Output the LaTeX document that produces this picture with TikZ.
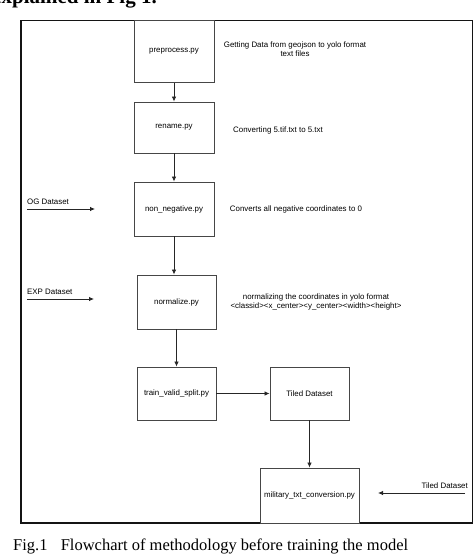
\documentclass[tikz,border=0pt]{standalone}
\usepackage{fontspec}
\setmainfont{Liberation Serif}
\setsansfont{Liberation Sans}
\usetikzlibrary{arrows.meta}
\definecolor{boxline}{RGB}{70, 70, 70}
\definecolor{frameline}{RGB}{20, 20, 20}
\tikzset{
	stepbox/.style={draw=boxline, line width=0.9pt, fill=white, inner sep=0pt, font=\sffamily\fontsize{7.9}{9}\selectfont},
	note/.style={font=\sffamily\fontsize{7.9}{9.5}\selectfont, align=center, inner sep=0pt},
	flow/.style={draw=black!85, line width=0.8pt, -{Latex[length=5pt, width=4.5pt]}}
}
\begin{document}
\begin{tikzpicture}[x=1pt, y=-1pt]
			\useasboundingbox (0, 0) rectangle (474, 556);
			% cut-off line above the figure
			\node[anchor=base east, font=\bfseries\fontsize{21}{24}\selectfont, inner sep=0pt] (head) at (157, 3.5) {explained in Fig 1.};
			% frame
			\draw [draw=frameline, line width=1.8pt] (21, 20.5) rectangle (472.5, 523);
			% steps
			\node[stepbox, minimum width=80pt, minimum height=62pt] (prep) at (174, 51.5) {preprocess.py};
			\node[stepbox, minimum width=80pt, minimum height=51pt] (ren) at (174, 127.5) {rename.py};
			\node[stepbox, minimum width=80pt, minimum height=54pt] (nonneg) at (174, 209) {non\_negative.py};
			\node[stepbox, minimum width=79pt, minimum height=54pt] (norm) at (176.5, 302) {normalize.py};
			\node[stepbox, minimum width=79pt, minimum height=53pt] (split) at (176.5, 393.5) {train\_valid\_split.py};
			\node[stepbox, minimum width=79pt, minimum height=53pt] (tiled) at (309.5, 393.5) {Tiled Dataset};
			\node[stepbox, minimum width=99pt, minimum height=55pt] (milit) at (309.5, 495.5) {military\_txt\_conversion.py};
			% notes
			\node[note] (n1) at (295, 49) {Getting Data from geojson to yolo format\\text files};
			\node[note] (n2) at (278, 130) {Converting 5.tif.txt to 5.txt};
			\node[note] (n3) at (296, 209) {Converts all negative coordinates to 0};
			\node[note] (n4) at (316, 302) {normalizing the coordinates in yolo format\\<classid><x\_center><y\_center><width><height>};
			% inputs
			\coordinate (og) at (27, 209);
			\coordinate (ogend) at (95, 209);
			\coordinate (exp) at (27, 299);
			\coordinate (expend) at (94, 299);
			\coordinate (td) at (465, 493);
			\coordinate (tdend) at (378, 493);
			\node[note, anchor=south west] (oglab) at (27, 205) {OG Dataset};
			\node[note, anchor=south west] (explab) at (27, 295) {EXP Dataset};
			\node[note, anchor=south east] (tdlab) at (468, 489) {Tiled Dataset};
			% arrows
			\draw [flow] (prep) -- (ren);
			\draw [flow] (ren) -- (nonneg);
			\draw [flow] (nonneg.south) -- (nonneg.south |- norm.north);
			\draw [flow] (norm) -- (split);
			\draw [flow] (split) -- (tiled);
			\draw [flow] (tiled) -- (milit);
			\draw [flow] (og) -- (ogend);
			\draw [flow] (exp) -- (expend);
			\draw [flow] (td) -- (tdend);
			% caption
			\node[anchor=base west, font=\fontsize{16.5}{20}\selectfont, inner sep=0pt] (cap) at (13, 550) {Fig.1\hspace{0.8em}Flowchart of methodology before training the model};
		\end{tikzpicture}
\end{document}
